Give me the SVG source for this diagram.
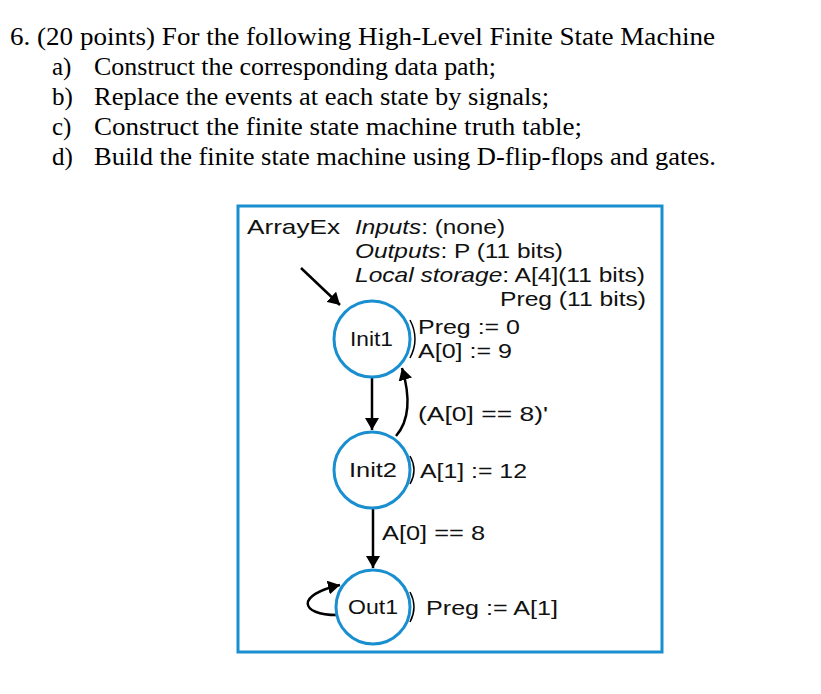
<svg xmlns="http://www.w3.org/2000/svg" width="821" height="694" viewBox="0 0 821 694">
<style>
.q{font-family:"Liberation Serif",serif;font-size:25px;fill:#000}
.t{font-family:"Liberation Sans",Arial,sans-serif;font-size:21px;fill:#111}
.s{font-family:"Liberation Sans",Arial,sans-serif;font-size:20px;fill:#111}
.st{fill:#fff;stroke:#1a8fd0;stroke-width:3}
.c{fill:none;stroke:#000;stroke-width:2.5}
.b{fill:none;stroke:#000;stroke-width:1.5}
</style>
<defs>
<marker id="A" markerWidth="12" markerHeight="14" refX="12" refY="7" orient="auto" markerUnits="userSpaceOnUse" viewBox="0 0 12 14"><path d="M0,0 L12,7 L0,14 z" fill="#000"/></marker></defs>
<rect width="821" height="694" fill="#fff"/>
<text class="q" x="10" y="45" textLength="705" lengthAdjust="spacingAndGlyphs">6.  (20 points) For the following High-Level Finite State Machine</text>
<text class="q" x="52" y="75">a)</text><text class="q" x="94" y="75" textLength="402" lengthAdjust="spacingAndGlyphs">Construct the corresponding data path;</text>
<text class="q" x="52" y="105">b)</text><text class="q" x="94" y="105" textLength="455" lengthAdjust="spacingAndGlyphs">Replace the events at each state by signals;</text>
<text class="q" x="52" y="135">c)</text><text class="q" x="94" y="135" textLength="488" lengthAdjust="spacingAndGlyphs">Construct the finite state machine truth table;</text>
<text class="q" x="52" y="165">d)</text><text class="q" x="94" y="165" textLength="622" lengthAdjust="spacingAndGlyphs">Build the finite state machine using D-flip-flops and gates.</text>
<rect x="238" y="206" width="424" height="446" fill="none" stroke="#1a8fd0" stroke-width="3"/>
<text class="t" x="247" y="234" textLength="93" lengthAdjust="spacingAndGlyphs">ArrayEx</text>
<text class="t" x="355" y="234" textLength="150" lengthAdjust="spacingAndGlyphs"><tspan font-style="italic">Inputs</tspan>: (none)</text>
<text class="t" x="355" y="258" textLength="208" lengthAdjust="spacingAndGlyphs"><tspan font-style="italic">Outputs</tspan>: P (11 bits)</text>
<text class="t" x="355" y="282" textLength="290" lengthAdjust="spacingAndGlyphs"><tspan font-style="italic">Local storage</tspan>: A[4](11 bits)</text>
<text class="t" x="500" y="306" textLength="146" lengthAdjust="spacingAndGlyphs">Preg (11 bits)</text>
<g id="connectors">
<line class="c" x1="301" y1="268" x2="340" y2="305" marker-end="url(#A)"/>
<line class="c" x1="372" y1="378" x2="372" y2="430" marker-end="url(#A)"/>
<path class="c" d="M396,436 C410,420 410,395 402,368" marker-end="url(#A)"/>
<line class="c" x1="373" y1="509" x2="373" y2="568" marker-end="url(#A)"/>
<path class="c" d="M337,615 C300,615 295,595 340,585" marker-end="url(#A)"/>
</g>
<g id="init1"><circle class="st" cx="372" cy="339" r="38"/><text class="s" x="350" y="346" textLength="43" lengthAdjust="spacingAndGlyphs">Init1</text>
<path class="b" d="M410,320 Q420,339 410,358"/>
<text class="t" x="418" y="334" textLength="102" lengthAdjust="spacingAndGlyphs">Preg := 0</text><text class="t" x="418" y="358" textLength="94" lengthAdjust="spacingAndGlyphs">A[0] := 9</text></g>
<text class="t" x="418" y="421" textLength="130" lengthAdjust="spacingAndGlyphs">(A[0] == 8)'</text>
<g id="init2"><circle class="st" cx="372" cy="470" r="38"/><text class="s" x="349" y="477" textLength="48" lengthAdjust="spacingAndGlyphs">Init2</text>
<path class="b" d="M410,456 Q418,470 410,484"/>
<text class="t" x="420" y="478" textLength="107" lengthAdjust="spacingAndGlyphs">A[1] := 12</text></g>
<text class="t" x="382" y="540" textLength="103" lengthAdjust="spacingAndGlyphs">A[0] == 8</text>
<g id="out1"><circle class="st" cx="373" cy="607" r="37"/><text class="s" x="348" y="614" textLength="50" lengthAdjust="spacingAndGlyphs">Out1</text>
<path class="b" d="M410,592 Q418,607 410,622"/>
<text class="t" x="426" y="615" textLength="132" lengthAdjust="spacingAndGlyphs">Preg := A[1]</text></g>
</svg>
